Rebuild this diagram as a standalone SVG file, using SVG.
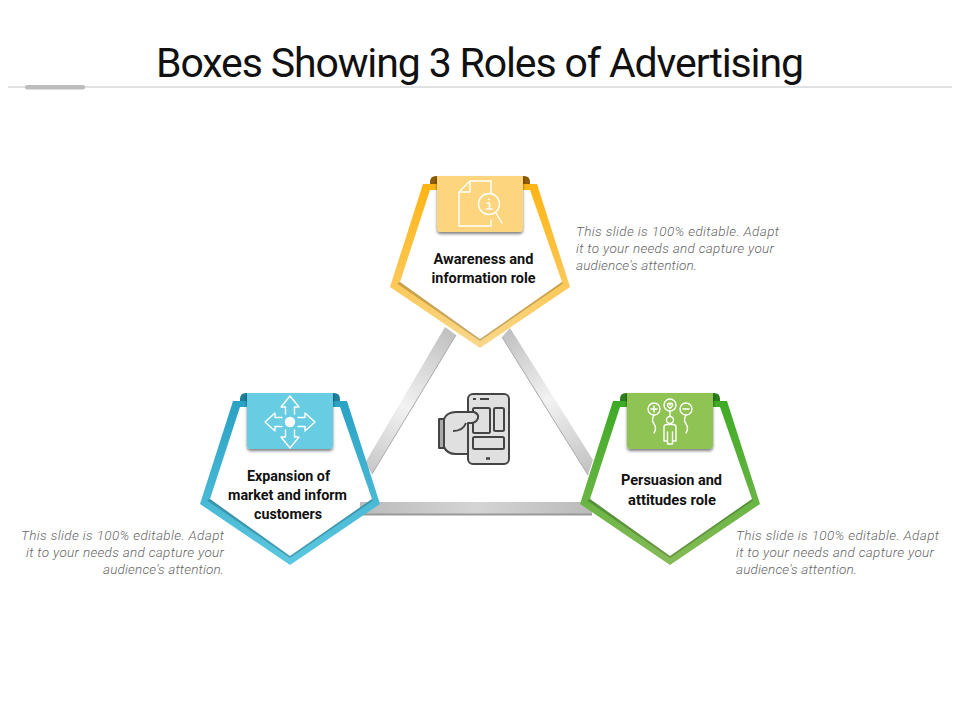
<svg xmlns="http://www.w3.org/2000/svg" width="960" height="720" viewBox="0 0 960 720">
<style>
.title{font:41px Roboto,"Liberation Sans",Arial,sans-serif;fill:#111}
.lab{font:700 15px Roboto,"Liberation Sans",sans-serif;fill:#111;text-anchor:middle}
.note{font:italic 300 13.500px Roboto,"Liberation Sans",sans-serif;fill:#666}
.ic{fill:none;stroke:#fff;stroke-width:1.400;stroke-linecap:round;stroke-linejoin:round}
.dk{fill:#e0e0e0;stroke:#444;stroke-width:2;stroke-linejoin:round}
</style>
<defs>
<linearGradient id="gy" x1="0" y1="0" x2="0" y2="1"><stop offset="0" stop-color="#ffb414"/><stop offset="0.55" stop-color="#fdc650"/><stop offset="1" stop-color="#f8d88c"/></linearGradient>
<linearGradient id="gb" x1="0" y1="0" x2="0" y2="1"><stop offset="0" stop-color="#2aa2c4"/><stop offset="1" stop-color="#5cc8e0"/></linearGradient>
<linearGradient id="gg" x1="0" y1="0" x2="0" y2="1"><stop offset="0" stop-color="#3cab24"/><stop offset="1" stop-color="#86bb58"/></linearGradient>
<linearGradient id="bl" gradientUnits="userSpaceOnUse" x1="450" y1="330" x2="368" y2="470"><stop offset="0" stop-color="#c0c0c0"/><stop offset="0.55" stop-color="#f2f2f2"/><stop offset="1" stop-color="#c8c8c8"/></linearGradient>
<linearGradient id="br" gradientUnits="userSpaceOnUse" x1="506" y1="332" x2="590" y2="468"><stop offset="0" stop-color="#c0c0c0"/><stop offset="0.5" stop-color="#f2f2f2"/><stop offset="1" stop-color="#c4c4c4"/></linearGradient>
<linearGradient id="bb" x1="0" y1="0" x2="1" y2="0"><stop offset="0" stop-color="#bbb"/><stop offset="0.5" stop-color="#d4d4d4"/><stop offset="1" stop-color="#bbb"/></linearGradient>
<filter id="sh" x="-20%" y="-20%" width="140%" height="140%"><feDropShadow dx="0" dy="2" stdDeviation="1.500" flood-color="#000" flood-opacity="0.5"/></filter>
<path id="ring" fill-rule="evenodd" d="M-57 -164H-43V-158H-50L-80 -66L0 -9L82 -66L50 -158H43V-164H57L90 -61L0 0L-90 -61Z"/>
<path id="rimshade" d="M-80 -66L0 -9L82 -66L83 -64.500L0 -7L-83 -64.500Z" fill="#000" fill-opacity="0.2"/>
<path id="curl" d="M-50 -164V-166Q-50 -172 -44 -172H-43V-164Z M50 -164V-166Q50 -172 44 -172H43V-164Z"/>
<path id="tab" d="M-43 -172H43V-120Q43 -116 39 -116H-39Q-43 -116 -43 -120Z" filter="url(#sh)"/>
</defs>
<rect width="960" height="720" fill="#fff"/>
<g id="header">
<text class="title" x="156" y="77" textLength="648">Boxes Showing 3 Roles of Advertising</text>
<line x1="8" y1="87" x2="952" y2="87" stroke="#c4c4c4" stroke-width="1"/>
<rect x="25" y="85" width="60" height="4.500" rx="2" fill="#bdbdbd"/>
</g>
<g id="connectors">
<polygon points="445,327 456,335 372,474 365,463" fill="url(#bl)"/>
<line x1="456" y1="335" x2="372" y2="474" stroke="#aaa" stroke-width="1"/>
<polygon points="510,328 502,337 588,475 593,460" fill="url(#br)"/>
<line x1="502" y1="337" x2="588" y2="475" stroke="#aaa" stroke-width="1"/>
<rect x="360" y="502" width="232" height="12" fill="url(#bb)"/>
<rect x="360" y="513.500" width="232" height="2" fill="#999"/>
</g>
<g id="node-awareness" transform="translate(480,348)">
<use href="#curl" fill="#8c5c08"/>
<use href="#ring" fill="url(#gy)"/>
<use href="#rimshade"/>
<use href="#tab" fill="#fdd57e"/>
<g class="ic" transform="translate(-480,-348)">
<path d="M470 181H491V193M470 181L459 192V226H491V220M470 181V192H459"/>
<circle cx="489" cy="204" r="10.500"/>
<path d="M496 213L502 223"/>
<path d="M489 199V199.500M487 203H489.500V209M486.500 209H492" stroke-width="1.600"/>
</g>
<text class="lab" x="3.500" y="-84" textLength="100" lengthAdjust="spacingAndGlyphs">Awareness and</text>
<text class="lab" x="3.500" y="-65" textLength="104" lengthAdjust="spacingAndGlyphs">information role</text>
</g>
<g id="node-expansion" transform="translate(290,565)">
<use href="#curl" fill="#1c7f9c"/>
<use href="#ring" fill="url(#gb)"/>
<use href="#rimshade"/>
<use href="#tab" fill="#67cde2"/>
<g class="ic" transform="translate(-290,-565)">
<circle cx="290" cy="422" r="4.500" fill="#fff"/>
<path d="M285.500 414V407H281L290 396L299 407H294.500V414"/>
<path d="M285.500 430V437H281L290 448L299 437H294.500V430"/>
<path d="M282 417.500H275V413L265 422L275 431V426.500H282"/>
<path d="M298 417.500H305V413L315 422L305 431V426.500H298"/>
</g>
<text class="lab" x="-1.500" y="-84" textLength="83" lengthAdjust="spacingAndGlyphs">Expansion of</text>
<text class="lab" x="-2.500" y="-65" textLength="119" lengthAdjust="spacingAndGlyphs">market and inform</text>
<text class="lab" x="-2" y="-46" textLength="68" lengthAdjust="spacingAndGlyphs">customers</text>
</g>
<g id="node-persuasion" transform="translate(670,565)">
<use href="#curl" fill="#2c7d20"/>
<use href="#ring" fill="url(#gg)"/>
<use href="#rimshade"/>
<use href="#tab" fill="#8fc454"/>
<g class="ic" transform="translate(-670,-565)">
<circle cx="654" cy="409" r="6"/><circle cx="670" cy="405" r="6"/><circle cx="686" cy="409" r="6"/>
<path d="M651 409H657M654 406V412M683 409H689M667.500 404Q670 402 670 405Q670 402 672.500 404Q673 406 670 408.500Q667 406 667.500 404Z"/>
<path d="M654 415Q651 420 654 424Q657 428 654 433M670 411V416M686 415Q683 420 686 424Q689 428 686 433"/>
<circle cx="670" cy="420" r="3.500"/>
<path d="M664 441V427Q664 424.500 667 424.500H673Q676 424.500 676 427V441H672.500V432M664 441H667.500V432"/>
<path d="M667.500 441V444H672.500V441"/>
</g>
<text class="lab" x="1.500" y="-80" textLength="101" lengthAdjust="spacingAndGlyphs">Persuasion and</text>
<text class="lab" x="2" y="-60" textLength="88" lengthAdjust="spacingAndGlyphs">attitudes role</text>
</g>
<g id="center-icon">
<rect x="468" y="394" width="41" height="70" rx="5" class="dk"/>
<path d="M473 399H476M480 399H489" stroke="#444" stroke-width="2" fill="none"/>
<rect x="473" y="408" width="17" height="25" rx="1.500" class="dk"/>
<rect x="494" y="408" width="10" height="23" rx="1.500" class="dk"/>
<rect x="473" y="437" width="31" height="12" rx="1.500" class="dk"/>
<path d="M486 458.500H490" stroke="#444" stroke-width="2.500"/>
<path d="M444 419H439V448H444Z" fill="#aaa" stroke="#444" stroke-width="2" stroke-linejoin="round"/>
<path d="M444 419Q447 412 456 412H474Q479 414 478 418Q477 422 472 423H468V454H456Q447 454 444 447Z" class="dk"/>
<path d="M453 431Q463 431 466 423" fill="none" stroke="#444" stroke-width="2"/>
</g>
<g id="notes">
<text class="note" x="576" y="236" textLength="203">This slide is 100% editable. Adapt</text>
<text class="note" x="576" y="253" textLength="198">it to your needs and capture your</text>
<text class="note" x="576" y="270" textLength="121">audience's attention.</text>
<text class="note" x="224" y="540" text-anchor="end" textLength="203">This slide is 100% editable. Adapt</text>
<text class="note" x="224" y="557" text-anchor="end" textLength="198">it to your needs and capture your</text>
<text class="note" x="224" y="574" text-anchor="end" textLength="121">audience's attention.</text>
<text class="note" x="736" y="540" textLength="203">This slide is 100% editable. Adapt</text>
<text class="note" x="736" y="557" textLength="198">it to your needs and capture your</text>
<text class="note" x="736" y="574" textLength="121">audience's attention.</text>
</g>
</svg>
